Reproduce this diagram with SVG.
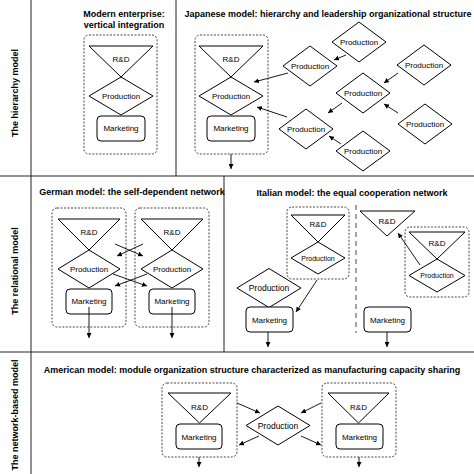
<svg xmlns="http://www.w3.org/2000/svg" width="474" height="474" viewBox="0 0 474 474">
<defs>
<marker id="ah" viewBox="0 0 10 10" refX="10" refY="5" markerWidth="5" markerHeight="5" markerUnits="userSpaceOnUse" orient="auto"><path d="M0,0 L10,5 L0,10 z" fill="#000"/></marker>
</defs>
<style>
text{font-family:"Liberation Sans",Arial,sans-serif;fill:#000}
.t{font-size:9px;font-weight:bold;text-anchor:middle}
.rl{font-size:9px;font-weight:bold;text-anchor:middle}
.n{font-size:8px;text-anchor:middle}
.s{font-size:7px;text-anchor:middle}
.sh{fill:#fff;stroke:#000;stroke-width:1}
.box{fill:none;stroke:#333;stroke-width:0.9;stroke-dasharray:2,1.5}
.grid{stroke:#222;stroke-width:1;fill:none}
.c{stroke:#000;stroke-width:0.9;fill:none;marker-end:url(#ah)}
.dv{stroke:#333;stroke-width:0.9;stroke-dasharray:5,4;fill:none}
</style>
<rect width="474" height="474" fill="#fff"/>
<g id="grid">
<line class="grid" x1="31" y1="0" x2="31" y2="474"/>
<line class="grid" x1="0" y1="176" x2="474" y2="176"/>
<line class="grid" x1="0" y1="352" x2="474" y2="352"/>
<line class="grid" x1="176" y1="0" x2="176" y2="176"/>
<line class="grid" x1="224" y1="176" x2="224" y2="352"/>
</g>
<g id="labels">
<text class="rl" transform="translate(18,93) rotate(-90)">The hierarchy model</text>
<text class="rl" transform="translate(18,271) rotate(-90)">The relational model</text>
<text class="rl" transform="translate(18,415) rotate(-90)">The network-based model</text>
<text class="t" x="124" y="17">Modern enterprise:</text>
<text class="t" x="124" y="28">vertical integration</text>
<text class="t" x="328" y="17">Japanese model: hierarchy and leadership organizational structure</text>
<text class="t" x="132" y="195">German model: the self-dependent network</text>
<text class="t" x="352" y="196">Italian model: the equal cooperation network</text>
<text class="t" x="252" y="373">American model: module organization structure characterized as manufacturing capacity sharing</text>
</g>
<g id="modern">
<rect class="box" x="84" y="35" width="73" height="119" rx="5"/>
<polygon class="sh" points="89,46 153,46 121,77"/>
<polygon class="sh" points="121,77 153,96 121,115 89,96"/>
<rect class="sh" x="97" y="116" width="48" height="25" rx="4"/>
<text class="n" x="121" y="62">R&amp;D</text>
<text class="n" x="121" y="99">Production</text>
<text class="n" x="121" y="131">Marketing</text>
</g>
<g id="japan-core">
<rect class="box" x="195" y="35" width="73" height="119" rx="5"/>
<polygon class="sh" points="199,46 263,46 231,77"/>
<polygon class="sh" points="231,77 263,96 231,115 199,96"/>
<rect class="sh" x="207" y="116" width="48" height="25" rx="4"/>
<text class="n" x="231" y="62">R&amp;D</text>
<text class="n" x="231" y="99">Production</text>
<text class="n" x="231" y="131">Marketing</text>
</g>
<g id="jp1"><polygon class="sh" points="359,22 386,42 359,62 332,42"/><text class="n" x="359" y="45">Production</text></g>
<g id="jp2"><polygon class="sh" points="310,46 337,66 310,86 283,66"/><text class="n" x="310" y="69">Production</text></g>
<g id="jp3"><polygon class="sh" points="424,45 451,65 424,85 397,65"/><text class="n" x="424" y="68">Production</text></g>
<g id="jp4"><polygon class="sh" points="363,73 390,93 363,113 336,93"/><text class="n" x="363" y="96">Production</text></g>
<g id="jp5"><polygon class="sh" points="425,104 452,124 425,144 398,124"/><text class="n" x="425" y="127">Production</text></g>
<g id="jp6"><polygon class="sh" points="306,109 333,129 306,149 279,129"/><text class="n" x="306" y="132">Production</text></g>
<g id="jp7"><polygon class="sh" points="363,131 390,151 363,171 336,151"/><text class="n" x="363" y="154">Production</text></g>
<g id="german-left">
<rect class="box" x="52" y="208" width="74" height="119" rx="5"/>
<polygon class="sh" points="58,219 120,219 89,250"/>
<polygon class="sh" points="89,250 120,269 89,288 58,269"/>
<rect class="sh" x="66" y="289" width="46" height="25" rx="4"/>
<text class="n" x="89" y="235">R&amp;D</text>
<text class="n" x="89" y="272">Production</text>
<text class="n" x="89" y="304">Marketing</text>
</g>
<g id="german-right">
<rect class="box" x="135" y="208" width="74" height="119" rx="5"/>
<polygon class="sh" points="141,219 203,219 172,250"/>
<polygon class="sh" points="172,250 203,269 172,288 141,269"/>
<rect class="sh" x="149" y="289" width="46" height="25" rx="4"/>
<text class="n" x="172" y="235">R&amp;D</text>
<text class="n" x="172" y="272">Production</text>
<text class="n" x="172" y="304">Marketing</text>
</g>
<g id="italy-module">
<rect class="box" x="287" y="207" width="62" height="72" rx="5"/>
<polygon class="sh" points="291,215 345,215 318,242"/>
<polygon class="sh" points="318,242 345,258 318,274 291,258"/>
<text class="n" x="318" y="227">R&amp;D</text>
<text class="s" x="318" y="260.5">Production</text>
</g>
<g id="italy-production"><polygon class="sh" points="269,268.5 301,288 269,307.5 237,288"/><text class="n" style="font-size:8.5px" x="269" y="291">Production</text></g>
<g id="italy-marketing-left"><rect class="sh" x="246" y="307" width="47" height="25" rx="4"/><text class="n" x="269.5" y="322.5">Marketing</text></g>
<g id="italy-rd"><polygon class="sh" points="360,211 415,211 387,236"/><text class="n" x="387" y="224">R&amp;D</text></g>
<g id="italy-module-right">
<rect class="box" x="405" y="227" width="64" height="70" rx="5"/>
<polygon class="sh" points="409,232 465,232 437,259"/>
<polygon class="sh" points="437,259 465,275.5 437,292 409,275.5"/>
<text class="n" x="437" y="246">R&amp;D</text>
<text class="s" x="437" y="278">Production</text>
</g>
<g id="italy-marketing-right"><rect class="sh" x="364" y="307" width="47" height="25" rx="4"/><text class="n" x="387.5" y="322.5">Marketing</text></g>
<g id="us-left">
<rect class="box" x="162" y="383" width="75" height="74" rx="5"/>
<polygon class="sh" points="168,393 231,393 199.5,423"/>
<rect class="sh" x="176" y="424" width="46" height="25" rx="4"/>
<text class="n" x="199.5" y="410">R&amp;D</text>
<text class="n" x="199" y="439.5">Marketing</text>
</g>
<g id="us-production"><polygon class="sh" points="278,406 310,425.5 278,445 246,425.5"/><text class="n" style="font-size:8.5px" x="278" y="428.5">Production</text></g>
<g id="us-right">
<rect class="box" x="322" y="383" width="74" height="74" rx="5"/>
<polygon class="sh" points="328,393 389,393 358.5,423"/>
<rect class="sh" x="336" y="424" width="47" height="25" rx="4"/>
<text class="n" x="358.5" y="410">R&amp;D</text>
<text class="n" x="359.5" y="439.5">Marketing</text>
</g>
<g id="connectors">
<line class="c" x1="231" y1="154" x2="231" y2="169"/>
<line class="c" x1="346" y1="55" x2="334" y2="60"/>
<line class="c" x1="288" y1="73" x2="254" y2="82"/>
<line class="c" x1="398" y1="73" x2="384" y2="83"/>
<line class="c" x1="342" y1="103" x2="328" y2="113"/>
<line class="c" x1="398" y1="113" x2="384" y2="104"/>
<line class="c" x1="287" y1="117" x2="257" y2="107"/>
<line class="c" x1="341" y1="144" x2="329" y2="136"/>
<line class="c" x1="115" y1="244" x2="143" y2="256"/>
<line class="c" x1="143" y1="244" x2="117" y2="256"/>
<line class="c" x1="113" y1="274" x2="147" y2="286"/>
<line class="c" x1="147" y1="274" x2="115" y2="286"/>
<line class="c" x1="89" y1="307" x2="89" y2="338"/>
<line class="c" x1="172" y1="307" x2="172" y2="338"/>
<line class="dv" x1="356" y1="205" x2="356" y2="333"/>
<line class="c" x1="317" y1="280" x2="296" y2="312"/>
<line class="c" x1="420" y1="265" x2="398" y2="233"/>
<line class="c" x1="268" y1="332" x2="268" y2="347"/>
<line class="c" x1="387" y1="332" x2="387" y2="347"/>
<line class="c" x1="237" y1="403" x2="260" y2="413"/>
<line class="c" x1="321" y1="403" x2="301" y2="413"/>
<line class="c" x1="259" y1="436" x2="239" y2="445"/>
<line class="c" x1="301" y1="436" x2="321" y2="445"/>
<line class="c" x1="199" y1="457" x2="199" y2="467"/>
<line class="c" x1="359" y1="457" x2="359" y2="467"/>
</g>
</svg>
